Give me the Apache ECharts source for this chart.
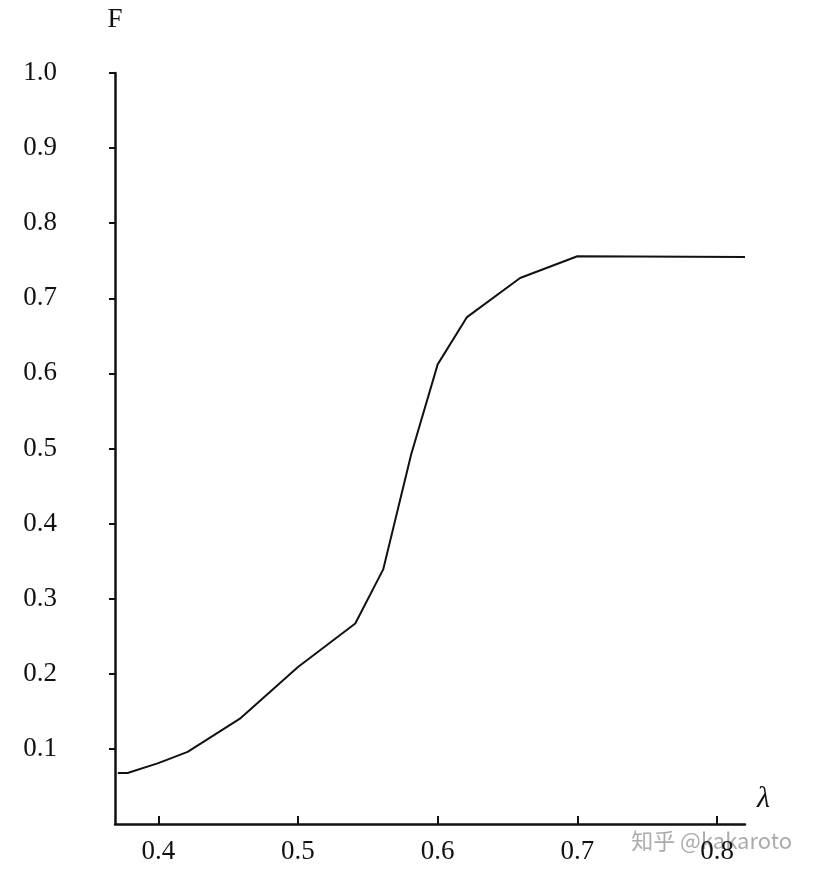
<!DOCTYPE html>
<html><head><meta charset="utf-8">
<script src="https://cdn.jsdelivr.net/npm/echarts@6/dist/echarts.min.js"></script>
<style>html,body{margin:0;padding:0;background:#fff}#c{width:814px;height:874px}</style>
</head><body><div id="c"></div>
<script>
const lambdaVals = [0.371, 0.378, 0.400, 0.421, 0.459, 0.500, 0.541, 0.561, 0.581, 0.600, 0.621, 0.659, 0.700, 0.820];
const fVals      = [0.068, 0.068, 0.081, 0.096, 0.141, 0.209, 0.267, 0.339, 0.492, 0.612, 0.675, 0.727, 0.756, 0.755];
const xTicks = [0.4, 0.5, 0.6, 0.7, 0.8];
const yTicks = [0.1, 0.2, 0.3, 0.4, 0.5, 0.6, 0.7, 0.8, 0.9, 1.0];
const font = '"Liberation Serif","DejaVu Serif",serif';
const chart = echarts.init(document.getElementById('c'));
chart.setOption({
  animation:false,
  grid:{left:115,right:69,top:73,bottom:50},
  xAxis:{type:'value',min:0.369,max:0.82,
    axisLine:{lineStyle:{color:'#111',width:2.5}},
    axisTick:{show:true,inside:true,length:8,lineStyle:{color:'#111',width:2},customValues:xTicks},
    axisLabel:{customValues:xTicks,formatter:v=>v.toFixed(1),color:'#111',fontFamily:font,fontSize:27,margin:14},
    splitLine:{show:false},
    name:'λ',nameLocation:'end',nameGap:12,nameTextStyle:{fontFamily:font,fontStyle:'italic',fontSize:30,color:'#111',verticalAlign:'bottom',padding:[0,0,10,0]}},
  yAxis:{type:'value',min:0,max:1,
    axisLine:{show:true,lineStyle:{color:'#111',width:2.5}},
    axisTick:{show:true,length:6,lineStyle:{color:'#111',width:2},customValues:yTicks},
    axisLabel:{customValues:yTicks,formatter:v=>v.toFixed(1),color:'#111',fontFamily:font,fontSize:27,margin:58,align:'right'},
    splitLine:{show:false},
    name:'F',nameLocation:'end',nameGap:40,nameTextStyle:{fontFamily:font,fontSize:27,color:'#111',align:'center'}},
  graphic:[{type:'text',right:22,bottom:22,style:{text:'知乎 @kakaroto',fontSize:22,fill:'rgba(150,150,150,0.8)',fontFamily:'"Noto Sans CJK SC",sans-serif'}}],
  series:[{type:'line',data:lambdaVals.map((x,i)=>[x,fVals[i]]),showSymbol:false,
    lineStyle:{color:'#111',width:2}}]
});
</script></body></html>
